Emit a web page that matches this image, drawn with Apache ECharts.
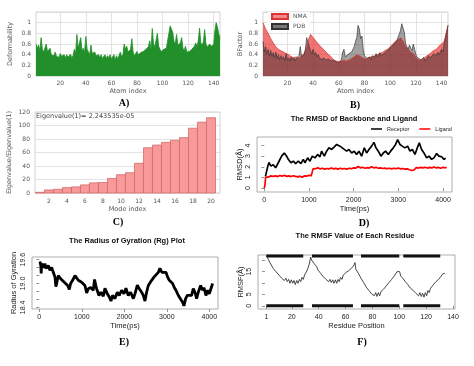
<!DOCTYPE html>
<html><head><meta charset="utf-8">
<script src="https://cdn.jsdelivr.net/npm/echarts@6/dist/echarts.min.js"></script>
<style>html,body{margin:0;padding:0;background:#fff}#c{width:474px;height:366px}</style>
</head><body><div id="c"></div>
<script>
// ---------- DATA ----------
// A) Deformability per atom (atoms 1..145)
const deformability = [
0.60,0.52,0.58,0.48,0.72,0.50,0.45,0.42,0.60,0.46,
0.44,0.52,0.40,0.42,0.38,0.45,0.37,0.38,0.35,0.42,
0.37,0.36,0.40,0.34,0.40,0.35,0.38,0.41,0.34,0.38,
0.50,0.42,0.78,0.52,0.50,0.72,0.48,0.52,0.44,0.74,
0.50,0.48,0.40,0.58,0.42,0.40,0.45,0.38,0.36,0.40,
0.34,0.40,0.33,0.36,0.40,0.33,0.38,0.34,0.40,0.32,
0.36,0.40,0.30,0.38,0.32,0.30,0.45,0.36,0.40,0.60,
0.50,0.56,0.45,0.42,0.50,0.70,0.45,0.38,0.42,0.46,
0.40,0.42,0.44,0.42,0.46,0.45,0.50,0.48,0.55,0.66,
0.50,0.89,0.60,0.55,0.52,0.80,0.56,0.50,0.46,0.48,
0.50,0.48,0.52,0.50,0.80,0.94,0.88,0.82,0.65,0.60,
0.78,0.58,0.55,0.62,0.72,0.52,0.48,0.56,0.45,0.42,
0.46,0.48,0.50,0.52,0.56,0.62,0.55,0.66,0.90,0.62,
0.58,0.64,0.87,0.60,0.55,0.58,0.60,0.56,0.55,0.58,
0.85,1.00,0.92,0.80,0.70];
const atomTicks = [20,40,60,80,100,120,140];

// B) B-factor (atom, value)
const nmaBfactor = [[1,1.0],[3,0.88],[5,0.8],[7,0.7],[9,0.62],[11,0.55],[13,0.5],[15,0.47],[17,0.45],[19,0.42],[21,0.4],[23,0.36],[25,0.34],[27,0.36],[29,0.33],[31,0.38],[33,0.42],[35,0.55],[37,0.72],[38,0.78],[40,0.72],[42,0.66],[44,0.6],[46,0.55],[48,0.5],[50,0.45],[52,0.4],[54,0.36],[56,0.3],[58,0.28],[60,0.27],[62,0.28],[64,0.3],[66,0.28],[68,0.3],[70,0.33],[72,0.36],[74,0.4],[76,0.38],[78,0.35],[80,0.32],[82,0.33],[84,0.35],[86,0.36],[88,0.38],[90,0.4],[92,0.42],[94,0.44],[96,0.48],[98,0.5],[100,0.55],[102,0.6],[104,0.65],[106,0.68],[108,0.72],[110,0.66],[112,0.55],[114,0.5],[116,0.45],[118,0.42],[120,0.35],[122,0.3],[124,0.3],[126,0.33],[128,0.37],[130,0.4],[132,0.44],[134,0.48],[136,0.5],[138,0.56],[140,0.6],[142,0.65],[144,0.85],[145,0.95]];
const pdbBfactor = [[1,0.65],[2,0.45],[3,0.55],[4,0.42],[5,0.5],[6,0.38],[7,0.48],[8,0.36],[9,0.44],[10,0.34],[11,0.45],[12,0.32],[13,0.4],[14,0.3],[15,0.38],[16,0.32],[17,0.36],[18,0.28],[19,0.42],[20,0.3],[21,0.34],[22,0.28],[23,0.36],[24,0.3],[25,0.34],[26,0.28],[27,0.33],[28,0.3],[29,0.38],[30,0.55],[31,0.36],[32,0.34],[33,0.4],[34,0.5],[35,0.72],[36,0.74],[37,0.55],[38,0.48],[39,0.42],[40,0.5],[41,0.4],[42,0.44],[43,0.36],[44,0.4],[45,0.34],[46,0.36],[47,0.3],[48,0.34],[50,0.3],[52,0.32],[54,0.28],[56,0.3],[58,0.26],[60,0.25],[62,0.3],[63,0.45],[64,0.5],[65,0.36],[66,0.38],[68,0.42],[70,0.45],[71,0.5],[72,0.55],[73,0.65],[74,0.72],[75,0.95],[76,0.88],[77,0.7],[78,0.75],[79,0.5],[80,0.38],[82,0.33],[84,0.36],[85,0.3],[86,0.38],[88,0.35],[89,0.42],[90,0.36],[92,0.44],[93,0.38],[95,0.42],[97,0.46],[99,0.5],[101,0.55],[103,0.6],[105,0.65],[106,0.72],[107,0.78],[108,0.85],[109,0.98],[110,0.95],[111,0.82],[112,0.6],[113,0.55],[114,0.5],[115,0.58],[116,0.52],[117,0.48],[118,0.6],[119,0.5],[120,0.4],[121,0.35],[122,0.38],[124,0.3],[126,0.35],[127,0.28],[128,0.32],[130,0.38],[131,0.33],[132,0.36],[134,0.42],[136,0.38],[137,0.45],[138,0.4],[140,0.5],[141,0.45],[142,0.6],[143,0.7],[144,0.82],[145,0.95]];

// C) Eigenvalue ratio per mode (modes 1..20)
const eigenRatio = [1,4.5,5.5,8,9,12,15,15.6,21.5,27,30,44,67,71,75,78,82,96,105,111.5];
const modeTicks = [2,4,6,8,10,12,14,16,18,20];

// D) RMSD (time ps, Angstrom)
const receptorRMSD = [[25,1.1],[37,1.3],[70,1.9],[104,2.4],[150,2.06],[200,2.2],[254,1.9],[313,2.38],[388,3.0],[448,3.3],[500,3.0],[537,2.7],[597,2.38],[649,2.53],[701,2.3],[761,2.53],[820,2.3],[873,2.7],[910,2.38],[970,2.84],[1022,2.53],[1074,3.0],[1134,2.84],[1194,3.16],[1246,2.94],[1283,3.47],[1343,3.0],[1395,3.47],[1447,3.78],[1507,3.63],[1567,3.88],[1619,4.1],[1656,4.25],[1693,3.94],[1746,3.78],[1790,3.88],[1843,3.47],[1895,3.63],[1955,3.3],[2014,3.47],[2066,3.16],[2119,3.47],[2178,3.0],[2238,3.78],[2290,3.3],[2342,3.63],[2402,3.94],[2454,4.3],[2499,3.78],[2551,3.47],[2611,3.0],[2663,3.3],[2715,3.47],[2775,3.16],[2827,3.47],[2887,3.78],[2939,4.1],[2984,4.56],[3036,4.1],[3088,3.94],[3148,3.78],[3208,3.94],[3260,3.47],[3312,3.63],[3372,3.16],[3424,3.78],[3469,4.25],[3521,3.63],[3573,3.3],[3633,2.84],[3685,3.0],[3745,2.7],[3797,2.84],[3857,3.25],[3909,3.0],[3969,2.94],[4021,2.7],[4060,2.8]];
const ligandRMSD = [[0,0.0],[15,0.3],[30,1.0],[60,1.1],[100,1.05],[150,1.15],[200,1.1],[250,1.15],[300,1.08],[350,1.18],[400,1.12],[450,1.2],[500,1.1],[550,1.15],[600,1.08],[650,1.16],[700,1.1],[750,1.05],[800,1.12],[850,1.02],[900,1.15],[950,1.12],[1000,1.2],[1050,1.15],[1070,1.45],[1090,1.8],[1120,1.9],[1150,1.82],[1200,1.9],[1250,1.8],[1300,1.86],[1350,1.78],[1400,1.84],[1450,1.8],[1500,1.88],[1550,1.8],[1600,1.85],[1650,1.78],[1700,1.86],[1750,1.8],[1800,1.84],[1850,1.78],[1900,1.86],[1950,1.82],[2000,1.9],[2050,1.88],[2100,2.02],[2150,1.9],[2200,1.95],[2250,1.86],[2300,1.92],[2350,1.88],[2400,2.0],[2450,1.9],[2500,1.95],[2550,1.86],[2600,1.9],[2650,1.84],[2700,1.88],[2750,1.82],[2800,1.86],[2850,1.8],[2900,1.86],[2950,1.82],[3000,1.88],[3050,1.8],[3100,1.84],[3150,1.78],[3200,1.8],[3250,1.72],[3300,1.65],[3350,1.7],[3400,1.92],[3450,1.88],[3500,1.95],[3550,1.9],[3600,1.96],[3650,1.88],[3700,1.94],[3750,1.9],[3800,1.98],[3850,1.9],[3900,1.94],[3950,1.86],[4000,1.95],[4050,1.9],[4080,1.96]];
const timeTicks = [0,1000,2000,3000,4000];
const rmsdTicks = [0,1,2,3,4];

// E) Radius of gyration (time ps, value)
const radiusGyration = [[16,19.55],[35,19.45],[45,19.25],[55,19.5],[100,19.4],[130,19.5],[157,19.38],[212,19.45],[250,19.33],[290,19.4],[329,19.28],[369,19.16],[390,18.92],[408,19.0],[447,19.2],[502,19.12],[549,19.16],[588,19.03],[627,19.0],[667,18.95],[706,18.85],[737,19.0],[784,19.08],[839,19.2],[878,19.14],[918,19.08],[957,19.12],[996,19.03],[1035,19.0],[1074,18.95],[1114,18.76],[1153,18.87],[1208,18.9],[1270,18.83],[1300,19.1],[1330,18.95],[1349,18.87],[1404,18.7],[1451,18.78],[1506,18.68],[1545,18.88],[1600,18.74],[1647,18.66],[1686,18.56],[1725,18.7],[1780,18.62],[1835,18.78],[1882,18.7],[1937,18.83],[1992,18.74],[2039,18.88],[2094,18.7],[2149,18.78],[2212,18.62],[2251,18.74],[2306,18.96],[2353,18.87],[2408,18.78],[2447,18.7],[2486,18.56],[2525,18.78],[2565,18.95],[2604,19.0],[2643,19.08],[2698,19.16],[2745,19.2],[2800,19.28],[2839,19.38],[2886,19.28],[2933,19.24],[2980,19.28],[3020,19.16],[3059,19.08],[3098,19.12],[3137,19.0],[3176,18.9],[3216,18.83],[3255,18.74],[3294,18.66],[3333,18.62],[3372,18.53],[3404,18.44],[3443,18.62],[3482,18.7],[3529,18.74],[3584,18.7],[3623,18.87],[3663,18.78],[3702,18.62],[3741,18.78],[3796,18.95],[3843,18.83],[3874,18.9],[3921,18.7],[3961,18.83],[4000,18.74],[4039,18.78],[4078,19.0]];
const rgTicks = [18.4,18.6,18.8,19.0,19.2,19.4,19.6];
const rgLabels = [18.4,19.0,19.6];

// F) RMSF per residue (residue, value)
const rmsfValues = [[1.2,21.8],[2.5,20.4],[3.7,18.9],[5,18.6],[6.2,16.4],[7.5,16.9],[8.2,15],[9.4,15.4],[10.4,13.5],[11.7,14],[12.4,12.1],[13.7,12.8],[14.4,11.1],[15.6,12.1],[16.6,10.6],[17.6,11.6],[18.6,9.9],[19.6,11.4],[20.6,9.9],[21.6,11.1],[22.6,9.3],[23.6,11.1],[24.6,9.9],[25.6,11.6],[26.6,10.6],[27.6,12.5],[28.5,11.6],[29.5,13.5],[30.5,14.6],[31.5,15.7],[32.3,16.4],[33,18.3],[34,21.4],[34.7,20.1],[35.7,20.4],[36.5,18.6],[37.5,17.9],[38.5,17.2],[39.5,15.7],[40.5,16],[41.4,14.3],[42.4,14.6],[43.4,12.8],[44.4,13.4],[45.4,11.6],[46.4,12.2],[47.4,10.6],[48.4,11.6],[49.4,10.2],[50.4,11.4],[51.4,9.9],[52.4,11.4],[53.4,9.9],[54.4,11.6],[55.3,10.6],[56.3,12.5],[57.3,11.6],[58.3,13.5],[59.3,12.8],[60.3,14.6],[61.3,14],[62.3,15.4],[63.3,15],[64.3,16.4],[65.3,16],[66.3,17.9],[67,19],[67.7,16],[68.5,16.4],[69.5,14.3],[70.5,14],[71.5,12.1],[72.5,11.6],[73.5,10.2],[74.5,9.6],[75.4,8.2],[76.4,8.2],[77.4,6.7],[78.4,7],[79.4,5.2],[80.4,5.8],[81.4,4.4],[82.4,5.8],[83.4,4.1],[84.4,5.8],[85.4,4.4],[86.4,6.3],[87.4,5.5],[88.3,7.3],[89.3,6.7],[90.3,8.7],[91.3,8.4],[92.3,10.2],[93.3,9.9],[94.3,11.6],[95.3,11.4],[96.3,13.1],[97.3,14],[98.3,15],[99.3,15.4],[100.3,15],[101,13.1],[101.7,12.8],[102.7,12.1],[103.5,12.5],[104.5,10.6],[105.5,11.1],[106.5,9.2],[107.5,9.6],[108.4,7.7],[109.4,8.2],[110.4,6.7],[111.4,7.3],[112.4,5.5],[113.4,6.3],[114.4,4.4],[115.4,5.8],[116.4,4.1],[117.4,5.5],[118.4,3.8],[119.4,5.8],[120.4,4.4],[121.3,6.7],[122.3,5.8],[123.3,7.7],[124.3,7.3],[125.3,9.2],[126.3,8.7],[127.3,10.6],[128.3,10.2],[129.3,11.6],[130.3,12.1],[131.3,13.1],[132.3,14],[133.3,13.5],[134,14.3]];
const ssSegments = [[1,28.5],[35,65.5],[71.5,100],[103,130.5]];
const ssLevels = [21.9,0];
const residueTicks = [1,20,40,60,80,100,120,140];
const rmsfTicks = [0,5,10,15,20];
const rmsfLabels = [0,5,15];

// ---------- STYLE HELPERS ----------
const LF = 'DejaVu Sans';
const RF = 'Liberation Sans';
const plain = v => String(v);
function lightX(gi, o) {
  return Object.assign({
    gridIndex: gi, type: 'value', nameLocation: 'middle', nameGap: 12,
    nameTextStyle: {fontSize: 6.5, color: '#555', fontFamily: LF},
    axisLine: {show: false}, axisTick: {show: false},
    axisLabel: {fontSize: 6, color: '#555', fontFamily: LF, margin: 4},
    splitLine: {show: true, lineStyle: {color: '#dcdcdc', width: 0.8}}
  }, o);
}
function lightY(gi, o) {
  return Object.assign({
    gridIndex: gi, type: 'value', nameLocation: 'middle', nameRotate: 90,
    nameTextStyle: {fontSize: 6.5, color: '#555', fontFamily: LF},
    axisLine: {show: false}, axisTick: {show: false},
    axisLabel: {fontSize: 6, color: '#555', fontFamily: LF, margin: 5},
    splitLine: {show: true, lineStyle: {color: '#dcdcdc', width: 0.8}}
  }, o);
}
function rX(gi, o, ticks) {
  return Object.assign({
    gridIndex: gi, type: 'value', nameLocation: 'middle', nameGap: 12,
    nameTextStyle: {fontSize: 7.5, color: '#222', fontFamily: RF},
    axisLine: {show: false},
    axisTick: {show: true, inside: false, length: 3, lineStyle: {color: '#777', width: 0.8}, customValues: ticks},
    axisLabel: {fontSize: 7, color: '#222', fontFamily: RF, margin: 5, customValues: ticks, formatter: plain},
    splitLine: {show: false}
  }, o);
}
function rY(gi, o, ticks, labels, fmt) {
  return Object.assign({
    gridIndex: gi, type: 'value', nameLocation: 'middle', nameRotate: 90,
    nameTextStyle: {fontSize: 7.5, color: '#222', fontFamily: RF},
    axisLine: {show: false},
    axisTick: {show: true, inside: false, length: 3, lineStyle: {color: '#777', width: 0.8}, customValues: ticks},
    axisLabel: {fontSize: 7, color: '#222', fontFamily: RF, margin: 5, rotate: 90, customValues: labels || ticks, formatter: fmt || plain},
    splitLine: {show: false}
  }, o);
}

const chart = echarts.init(document.getElementById('c'), null, {renderer: 'canvas'});

const option = {
  animation: false,
  backgroundColor: '#fff',
  grid: [
    {left: 36, top: 12, width: 184, height: 64, show: true, borderColor: '#c8c8c8', borderWidth: 0.8},
    {left: 263, top: 12, width: 185, height: 64, show: true, borderColor: '#c8c8c8', borderWidth: 0.8},
    {left: 35, top: 112, width: 185, height: 81, show: true, borderColor: '#c8c8c8', borderWidth: 0.8},
    {left: 257, top: 137, width: 195, height: 55, show: true, borderColor: '#999', borderWidth: 0.8},
    {left: 32, top: 257, width: 186, height: 52, show: true, borderColor: '#999', borderWidth: 0.8},
    {left: 258, top: 255, width: 197, height: 54, show: true, borderColor: '#999', borderWidth: 0.8}
  ],
  xAxis: [
    lightX(0, {min: 1, max: 145, name: 'Atom index', axisLabel: {fontSize: 6, color: '#555', fontFamily: LF, margin: 4, customValues: atomTicks}, axisTick: {show: false, customValues: atomTicks}}),
    lightX(1, {min: 1, max: 145, name: 'Atom index', axisLabel: {fontSize: 6, color: '#555', fontFamily: LF, margin: 4, customValues: atomTicks}, axisTick: {show: false, customValues: atomTicks}}),
    lightX(2, {min: 0.45, max: 21, name: 'Mode index', nameGap: 13, splitLine: {show: false}, axisLabel: {fontSize: 6, color: '#555', fontFamily: LF, margin: 5, customValues: modeTicks}, axisTick: {show: false, customValues: modeTicks}}),
    rX(3, {min: -163, max: 4201, name: 'Time(ps)'}, timeTicks),
    rX(4, {min: -172, max: 4205, name: 'Time(ps)'}, timeTicks),
    rX(5, {min: -5.2, max: 141.5, name: 'Residue Position'}, residueTicks)
  ],
  yAxis: [
    lightY(0, {min: 0, max: 1.2, interval: 0.2, name: 'Deformability', nameGap: 22, axisLabel: {fontSize: 6, color: '#555', fontFamily: LF, margin: 5, showMaxLabel: false}}),
    lightY(1, {min: 0, max: 1.2, interval: 0.2, name: 'BFactor', nameGap: 19, axisLabel: {fontSize: 6, color: '#555', fontFamily: LF, margin: 5, showMaxLabel: false}}),
    lightY(2, {min: 0, max: 120, interval: 20, name: 'Eigenvalue/Eigenvalue(1)', nameGap: 22}),
    rY(3, {min: -0.37, max: 4.8, name: 'RMSD(Å)', nameGap: 13}, rmsdTicks),
    rY(4, {min: 18.36, max: 19.665, name: 'Radius of Gyration', nameGap: 14}, rgTicks, rgLabels, v => Number(v).toFixed(1)),
    rY(5, {min: -1.4, max: 22.3, name: 'RMSF(Å)', nameGap: 13}, rmsfTicks, rmsfLabels)
  ],
  legend: [
    {
      data: ['NMA', 'PDB'], orient: 'vertical', left: 268, top: 12, icon: 'rect',
      itemWidth: 16, itemHeight: 5, itemGap: 3, padding: [1, 3],
      backgroundColor: 'rgba(255,255,255,0.85)',
      textStyle: {fontSize: 6, color: '#555', fontFamily: LF}
    },
    {
      data: ['Receptor', 'Ligand'], orient: 'horizontal', left: 371, top: 126, icon: 'rect',
      itemWidth: 11, itemHeight: 1.5, itemGap: 10, padding: 0,
      textStyle: {fontSize: 5.5, color: '#222', fontFamily: RF}
    }
  ],
  series: [
    {
      type: 'line', xAxisIndex: 0, yAxisIndex: 0, symbol: 'none',
      data: deformability.map((v, i) => [i + 1, v]),
      lineStyle: {color: '#22902a', width: 0.8}, itemStyle: {color: '#22902a'},
      areaStyle: {color: '#22902a', opacity: 1}
    },
    {
      name: 'NMA', type: 'line', xAxisIndex: 1, yAxisIndex: 1, symbol: 'none',
      data: nmaBfactor,
      lineStyle: {color: '#e03c3c', width: 0.8}, itemStyle: {color: '#f08a8a', borderColor: '#d33', borderWidth: 1},
      areaStyle: {color: 'rgba(230,30,30,0.62)', opacity: 1}
    },
    {
      name: 'PDB', type: 'line', xAxisIndex: 1, yAxisIndex: 1, symbol: 'none',
      data: pdbBfactor,
      lineStyle: {color: '#3a3a3a', width: 0.7}, itemStyle: {color: '#777', borderColor: '#333', borderWidth: 1},
      areaStyle: {color: 'rgba(30,30,30,0.42)', opacity: 1}
    },
    {
      type: 'custom', xAxisIndex: 2, yAxisIndex: 2,
      data: eigenRatio.map((v, i) => [i + 1, v]),
      renderItem: function (params, api) {
        const x = api.value(0), y = api.value(1);
        const p1 = api.coord([x - 0.5, y]);
        const p2 = api.coord([x + 0.5, 0]);
        return {
          type: 'rect',
          shape: {x: p1[0], y: p1[1], width: p2[0] - p1[0], height: p2[1] - p1[1]},
          style: {fill: '#f89a9a', stroke: '#d36a6a', lineWidth: 0.8}
        };
      }
    },
    {
      name: 'Receptor', type: 'line', xAxisIndex: 3, yAxisIndex: 3, symbol: 'none',
      data: receptorRMSD, lineStyle: {color: '#000', width: 1.7}, itemStyle: {color: '#000'}
    },
    {
      name: 'Ligand', type: 'line', xAxisIndex: 3, yAxisIndex: 3, symbol: 'none',
      data: ligandRMSD, lineStyle: {color: '#ff0000', width: 1.7}, itemStyle: {color: '#ff0000'}
    },
    {
      type: 'line', xAxisIndex: 4, yAxisIndex: 4, symbol: 'none',
      data: radiusGyration, lineStyle: {color: '#000', width: 2.8}
    },
    {
      type: 'line', xAxisIndex: 5, yAxisIndex: 5, symbol: 'none',
      data: rmsfValues, lineStyle: {color: '#333', width: 0.9}
    },
    {
      type: 'custom', xAxisIndex: 5, yAxisIndex: 5,
      data: ssLevels.flatMap(lv => ssSegments.map(s => [s[0], s[1], lv])),
      renderItem: function (params, api) {
        const a = api.coord([api.value(0), api.value(2)]);
        const b = api.coord([api.value(1), api.value(2)]);
        return {type: 'line', shape: {x1: a[0], y1: a[1], x2: b[0], y2: b[1]}, style: {stroke: '#111', lineWidth: 3}};
      }
    }
  ],
  graphic: [
    {type: 'text', x: 36, y: 116, style: {text: 'Eigenvalue(1)= 2.243535e-05', font: '6.5px "DejaVu Sans"', fill: '#444', textAlign: 'left', textVerticalAlign: 'middle'}},
    {type: 'text', x: 354, y: 119, style: {text: 'The RMSD of Backbone and Ligand', font: 'bold 7.5px "Liberation Sans"', fill: '#111', textAlign: 'center', textVerticalAlign: 'middle'}},
    {type: 'text', x: 127, y: 241, style: {text: 'The Radius of Gyration (Rg) Plot', font: 'bold 7.5px "Liberation Sans"', fill: '#111', textAlign: 'center', textVerticalAlign: 'middle'}},
    {type: 'text', x: 355, y: 236, style: {text: 'The RMSF Value of Each Residue', font: 'bold 7.5px "Liberation Sans"', fill: '#111', textAlign: 'center', textVerticalAlign: 'middle'}},
    {type: 'text', x: 124, y: 103, style: {text: 'A)', font: 'bold 10px "Liberation Serif"', fill: '#000', textAlign: 'center', textVerticalAlign: 'middle'}},
    {type: 'text', x: 355, y: 105, style: {text: 'B)', font: 'bold 10px "Liberation Serif"', fill: '#000', textAlign: 'center', textVerticalAlign: 'middle'}},
    {type: 'text', x: 118, y: 222, style: {text: 'C)', font: 'bold 10px "Liberation Serif"', fill: '#000', textAlign: 'center', textVerticalAlign: 'middle'}},
    {type: 'text', x: 364, y: 223, style: {text: 'D)', font: 'bold 10px "Liberation Serif"', fill: '#000', textAlign: 'center', textVerticalAlign: 'middle'}},
    {type: 'text', x: 124, y: 342, style: {text: 'E)', font: 'bold 10px "Liberation Serif"', fill: '#000', textAlign: 'center', textVerticalAlign: 'middle'}},
    {type: 'text', x: 362, y: 342, style: {text: 'F)', font: 'bold 10px "Liberation Serif"', fill: '#000', textAlign: 'center', textVerticalAlign: 'middle'}}
  ]
};
chart.setOption(option);
</script></body></html>
